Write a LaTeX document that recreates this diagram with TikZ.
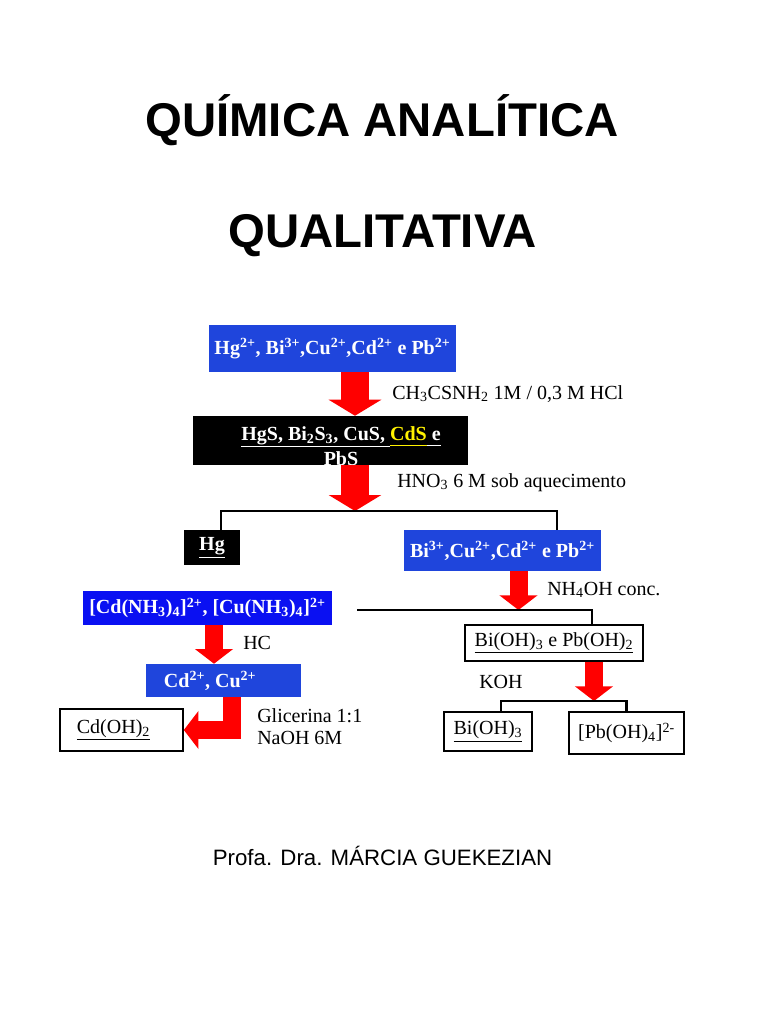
\documentclass[tikz,border=0pt]{standalone}
\usepackage{fontspec}
\setmainfont{Liberation Serif}
\newfontfamily\headfont{Liberation Sans}
\usetikzlibrary{arrows.meta,calc}
\definecolor{ionblue}{HTML}{1F45DC}
\definecolor{deepblue}{HTML}{0A10F2}
\newcommand{\ulx}[1]{\underline{\vphantom{X\textsubscript{3}}#1}}
\tikzset{box/.style={inner sep=1pt,align=center,font=\fontsize{15}{18}\selectfont\bfseries,text=white},bluebox/.style={box,fill=ionblue},blackbox/.style={box,fill=black},whitebox/.style={box,draw,line width=1.2pt,fill=white,text=black,font=\fontsize{15}{18}\selectfont},lbl/.style={anchor=base west,inner sep=0pt,align=left,font=\fontsize{15}{16.5}\selectfont},bigarrow/.style={red,line width=21pt,-{Triangle[length=12pt,width=39pt]}},smallarrow/.style={red,line width=13.5pt,-{Triangle[length=11pt,width=28pt]}},bracket/.style={line width=2.2pt},headline/.style={anchor=base,inner sep=0pt,font=\headfont\bfseries\fontsize{35.5}{42}\selectfont}}

\begin{document}
\begin{tikzpicture}[x=0.75pt,y=-0.75pt]
\useasboundingbox (0,0) rectangle (768,1024);
\node[headline] (title) at (382,137) {QUÍMICA ANALÍTICA};
\node[headline] (subtitle) at (382.5,247) {QUALITATIVA};
\node[anchor=base,inner sep=0pt,font=\headfont\fontsize{16.7}{20}\selectfont] (author) at (382.5,865) {Profa. Dra. MÁRCIA GUEKEZIAN};
% boxes
\node[bluebox,minimum width=185.25pt,minimum height=35.25pt] (ions) at (332.5,348.5) {Hg\textsuperscript{2+}, Bi\textsuperscript{3+},Cu\textsuperscript{2+},Cd\textsuperscript{2+} e Pb\textsuperscript{2+}};
\node[blackbox,minimum width=206.25pt,minimum height=36.75pt] (sulf) at (330.5,440.5) {};
\begin{scope}\clip (sulf.north west) rectangle (sulf.south east);\node[box,font=\fontsize{15}{19}\selectfont\bfseries] (sulftxt) at (341,446) {\ulx{HgS, Bi\textsubscript{2}S\textsubscript{3}, CuS, }\textcolor{yellow}{\ulx{CdS}}\ulx{ e}\\PbS};\end{scope}
\node[blackbox,minimum width=42pt,minimum height=26.25pt] (hg) at (212,547.5) {\ulx{Hg}};
\node[bluebox,minimum width=147.75pt,minimum height=30.75pt] (cations) at (502.5,550.5) {Bi\textsuperscript{3+},Cu\textsuperscript{2+},Cd\textsuperscript{2+} e Pb\textsuperscript{2+}};
\node[box,fill=deepblue,minimum width=186.75pt,minimum height=25.5pt] (ammin) at (207.5,608) {[Cd(NH\textsubscript{3})\textsubscript{4}]\textsuperscript{2+}, [Cu(NH\textsubscript{3})\textsubscript{4}]\textsuperscript{2+}};
\node[whitebox,minimum width=133.5pt,minimum height=27pt] (hydrox) at (554,643) {\ulx{Bi(OH)\textsubscript{3} e Pb(OH)\textsubscript{2}}};
\node[bluebox,minimum width=116.25pt,minimum height=24.75pt] (cdcu) at (223.5,680.5) {Cd\textsuperscript{2+}, Cu\textsuperscript{2+}\hspace{20pt}};
\node[whitebox,minimum width=92.25pt,minimum height=31.5pt] (cdoh) at (121.5,730) {\ulx{Cd(OH)\textsubscript{2}}\hspace{12pt}};
\node[whitebox,minimum width=66pt,minimum height=29.25pt] (bioh) at (488,731.5) {\ulx{Bi(OH)\textsubscript{3}}};
\node[whitebox,minimum width=86.25pt,minimum height=31.5pt] (pboh) at (626.5,733) {[Pb(OH)\textsubscript{4}]\textsuperscript{2-}};
% reagents
\node[lbl] (reag1) at (392,399) {CH\textsubscript{3}CSNH\textsubscript{2} 1M / 0,3 M HCl};
\node[lbl] (reag2) at (397,487) {HNO\textsubscript{3} 6 M sob aquecimento};
\node[lbl] (reag3) at (547,595) {NH\textsubscript{4}OH conc.};
\node[lbl] (reag4) at (243,649) {HC};
\node[lbl] (reag5) at (479,688) {KOH};
\node[lbl] (reag6) at (257,744) {Glicerina 1:1\\NaOH 6M};
% split points
\coordinate (a1) at (355,0);
\coordinate (a3) at (518.5,0);
\coordinate (a4) at (214,0);
\coordinate (a5) at (231.5,0);
\coordinate (split1) at (355,511);
\coordinate (split2) at (518.5,610);
\coordinate (split3) at (594,701);
\coordinate (lend) at (357,610);
% arrows
\draw[bigarrow] (ions.south -| a1) -- (sulf.north -| a1);
\draw[bigarrow] (sulf.south -| a1) -- (split1);
\draw[smallarrow] (cations.south -| a3) -- (split2);
\draw[smallarrow] (ammin.south -| a4) -- (cdcu.north -| a4);
\draw[smallarrow] (cdcu.south -| a5) |- (cdoh.east);
\draw[smallarrow] (hydrox.south -| split3) -- (split3);
% brackets
\draw[bracket] ($(hg.north)+(9,0)$) |- (split1) -| ($(cations.north)+(54.5,0)$);
\draw[bracket] (lend) -| ($(hydrox.north)+(38,0)$);
\draw[bracket] ($(bioh.north)+(13,0)$) |- (split3) -| (pboh.north);
\end{tikzpicture}
\end{document}
